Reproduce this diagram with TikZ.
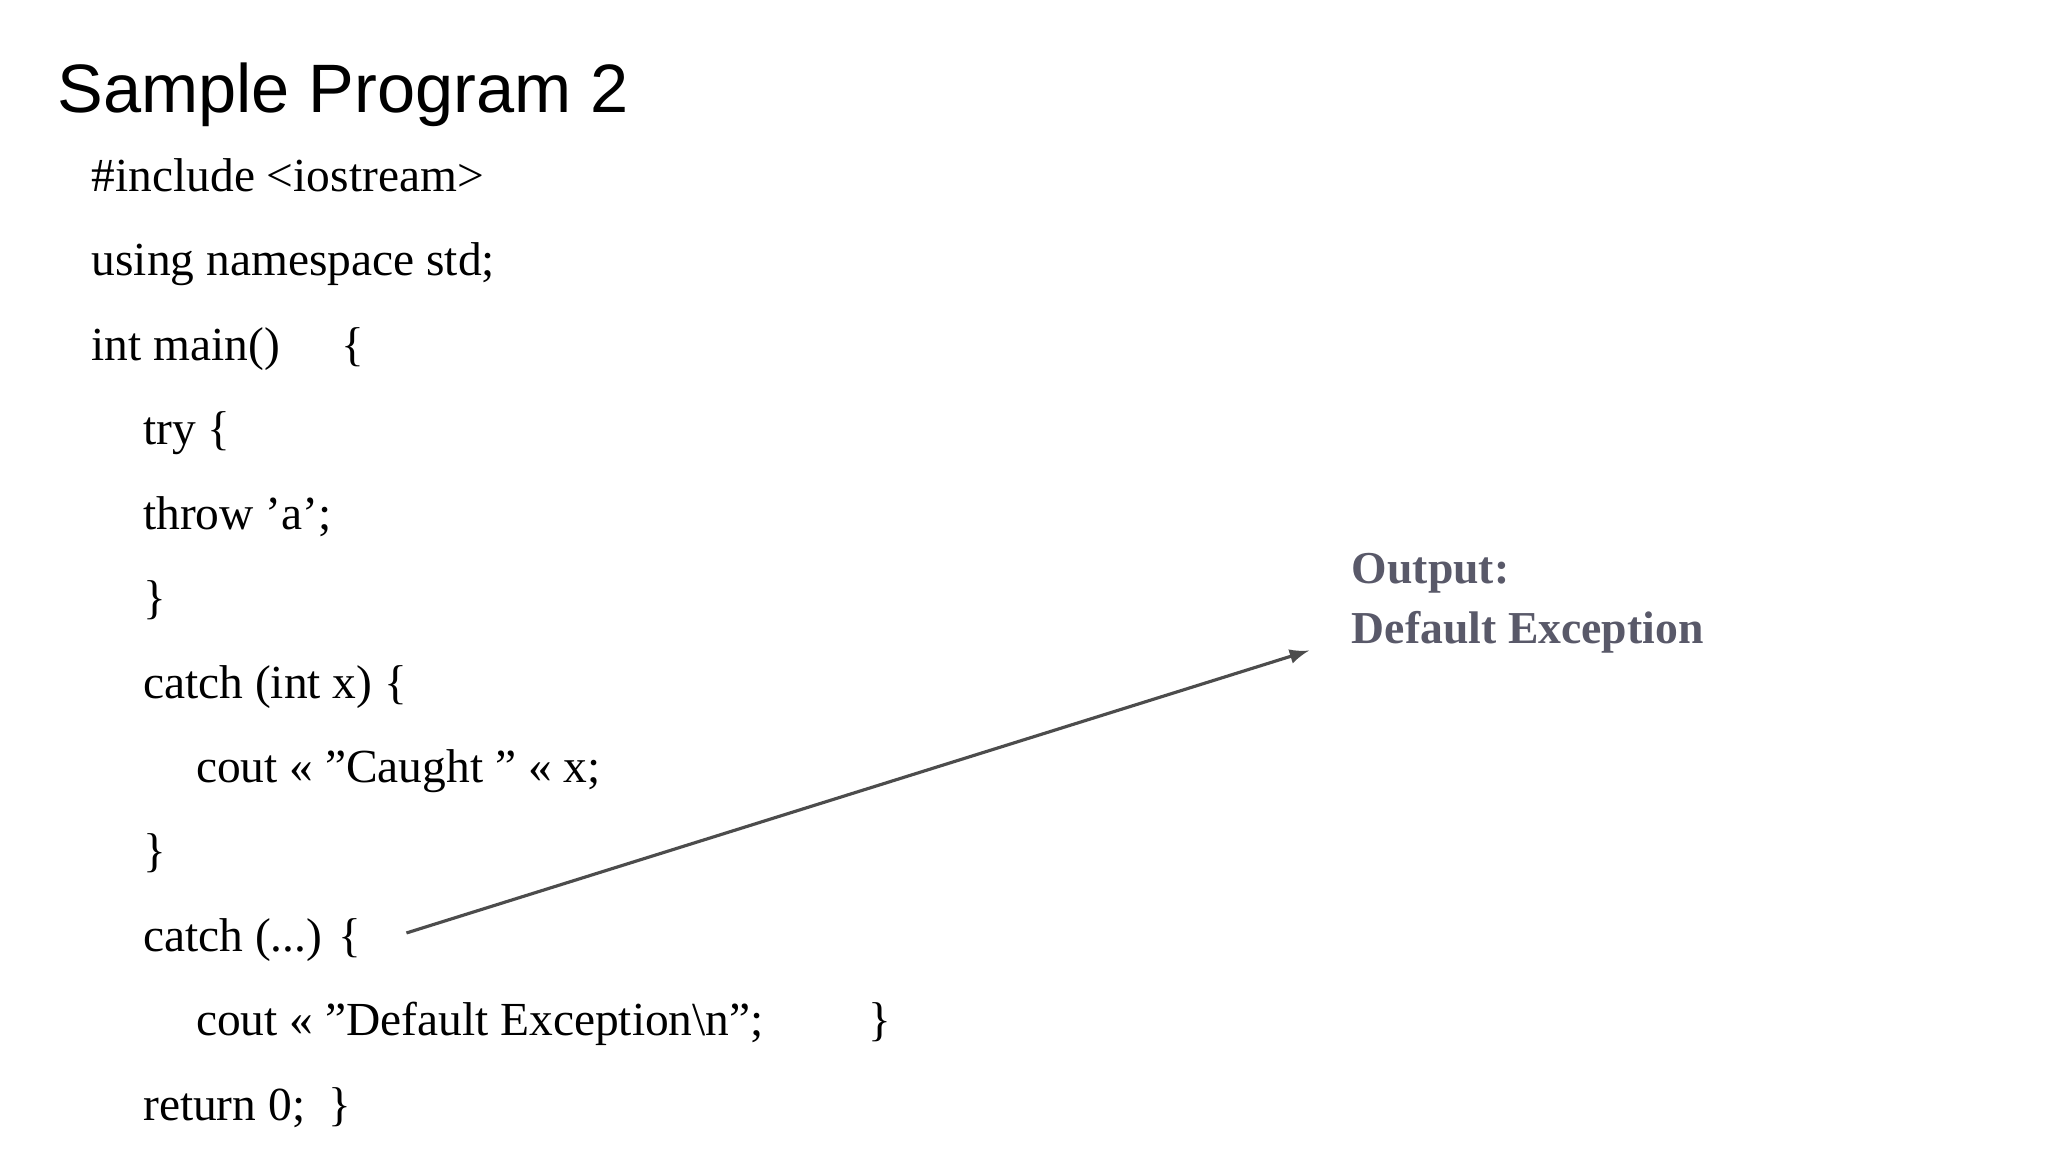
\documentclass[tikz,border=0pt]{standalone}
\usepackage{fontspec}
\setmainfont{Liberation Serif}
\newfontfamily\titlefont{Liberation Sans}
\begin{document}
\begin{tikzpicture}[x=0.013196cm,y=-0.013196cm,
  code/.style={anchor=base west,inner sep=0pt,font=\fontsize{13.5}{16}\selectfont},
  outp/.style={anchor=base west,inner sep=0pt,font=\fontsize{13}{16}\selectfont\bfseries,text=black!80!blue!30!gray},
  arr/.style={draw=black!70,line width=0.9pt,-latex}]
\useasboundingbox (0,0) rectangle (1552,873);
\node[anchor=base west,inner sep=0pt,font=\titlefont\fontsize{19.5}{22}\selectfont] (title) at (43,85) {Sample Program 2};
\node[code] (l1) at (69,145) {\#include <iostream>};
\node[code] (l2) at (69,209) {using namespace std;};
\node[code] (l3) at (69,273) {int main()\hspace{1.3em}\{};
\node[code] (l4) at (108,337) {try \{};
\node[code] (l5) at (108,401) {throw 'a';};
\node[code] (l6) at (108,465) {\}};
\node[code] (l7) at (108,529) {catch (int x) \{};
\node[code] (l8) at (148,593) {cout << "Caught " << x;};
\node[code] (l9) at (108,657) {\}};
\node[code] (l10) at (108,721) {catch (...) \{};
\node[code] (l11) at (148,785) {cout << "Default Exception\textbackslash n";\hspace{2.2em}\}};
\node[code] (l12) at (108,849) {return 0;\ \ \}};
\node[outp] (o1) at (1024,442) {Output:};
\node[outp] (o2) at (1024,488) {Default Exception};
\coordinate (s) at (308,707);
\coordinate (e) at (992,493);
\draw[arr] (s) -- (e);
\end{tikzpicture}
\end{document}
